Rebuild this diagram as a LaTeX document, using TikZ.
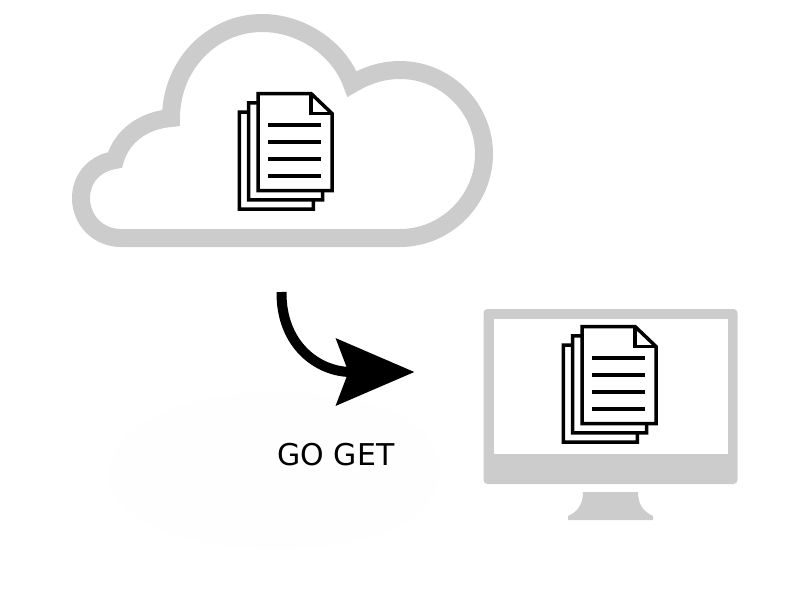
\documentclass[tikz,border=0pt]{standalone}
\usepackage{fontspec}
\setmainfont{DejaVu Sans}
\usetikzlibrary{arrows.meta}
\definecolor{shellgrey}{HTML}{CCCCCC}
\definecolor{smudge}{HTML}{FEFEFE}

\begin{document}
\begin{tikzpicture}[
        x=1pt,
        y=-1pt,
        shell/.style={
            shellgrey,
            line width=18pt,
            line join=miter
        },
        solid grey/.style={
            fill=shellgrey
        },
        sheet/.style={
            draw=black,
            fill=white,
            line width=3.5pt,
            line join=miter
        },
        textline/.style={
            black,
            line width=4pt
        },
        arrow/.style={
            -{Stealth[length=78pt,width=66pt,inset=12pt]},
            black,
            line width=10pt
        },
        caption/.style={
            font=\fontsize{30pt}{32pt}\selectfont,
            text=black,
            inner sep=0pt
        },
        docstack/.pic={
            \foreach \off in {18.6,9.3,0} {
                \draw[sheet] (-\off,\off) -- (-\off,\off+97) -- (74-\off,\off+97)
                    -- (74-\off,\off+20) -- (53-\off,\off) -- cycle;
            }
            \draw[line width=3.5pt, line join=miter] (53,0) -- (53,20) -- (74,20);
            \foreach \y in {31,48,65,82} {
                \draw[textline] (10,\y) -- (63,\y);
            }
        }
    ]
    \useasboundingbox (0,0) rectangle (800,600);

    % faint smudge behind the caption
    \fill[smudge] (108,470) .. controls (115,420) and (190,392) .. (275,392)
        .. controls (360,392) and (442,415) .. (440,470)
        .. controls (438,525) and (360,550) .. (275,550)
        .. controls (190,550) and (105,520) .. (108,470) -- cycle;

    % cloud
    \draw[shell] (121,238) -- (400,238)
        .. controls (446,238) and (484,200) .. (484,154)
        .. controls (484,108) and (446,70) .. (400,70)
        .. controls (383,70) and (367,75) .. (352,84)
        .. controls (340,50) and (303,23) .. (262,23)
        .. controls (212,23) and (171,65) .. (171,118)
        .. controls (145,120) and (122,135) .. (115,160)
        .. controls (95,163) and (81,178) .. (81,198)
        .. controls (81,220) and (98,238) .. (121,238) -- cycle;
    \pic at (258,93.5) {docstack};

    % monitor
    \fill[solid grey, rounded corners=4pt] (483.5,309) rectangle (737.5,484);
    \fill[white] (493.5,319) rectangle (727.5,454);
    \fill[solid grey] (583,492) -- (638,492)
        .. controls (638,505) and (644,512) .. (653,516)
        -- (653,520) -- (568,520) -- (568,516)
        .. controls (577,512) and (583,505) .. (583,492) -- cycle;
    \pic at (582,326.5) {docstack};

    % arrow and caption
    \coordinate (from) at (281.5,292);
    \coordinate (to) at (414.5,372);
    \draw[arrow] (from) .. controls (281,345) and (318,372) .. (to);
    \node[caption] (goget) at (336,455) {GO GET};
\end{tikzpicture}
\end{document}
